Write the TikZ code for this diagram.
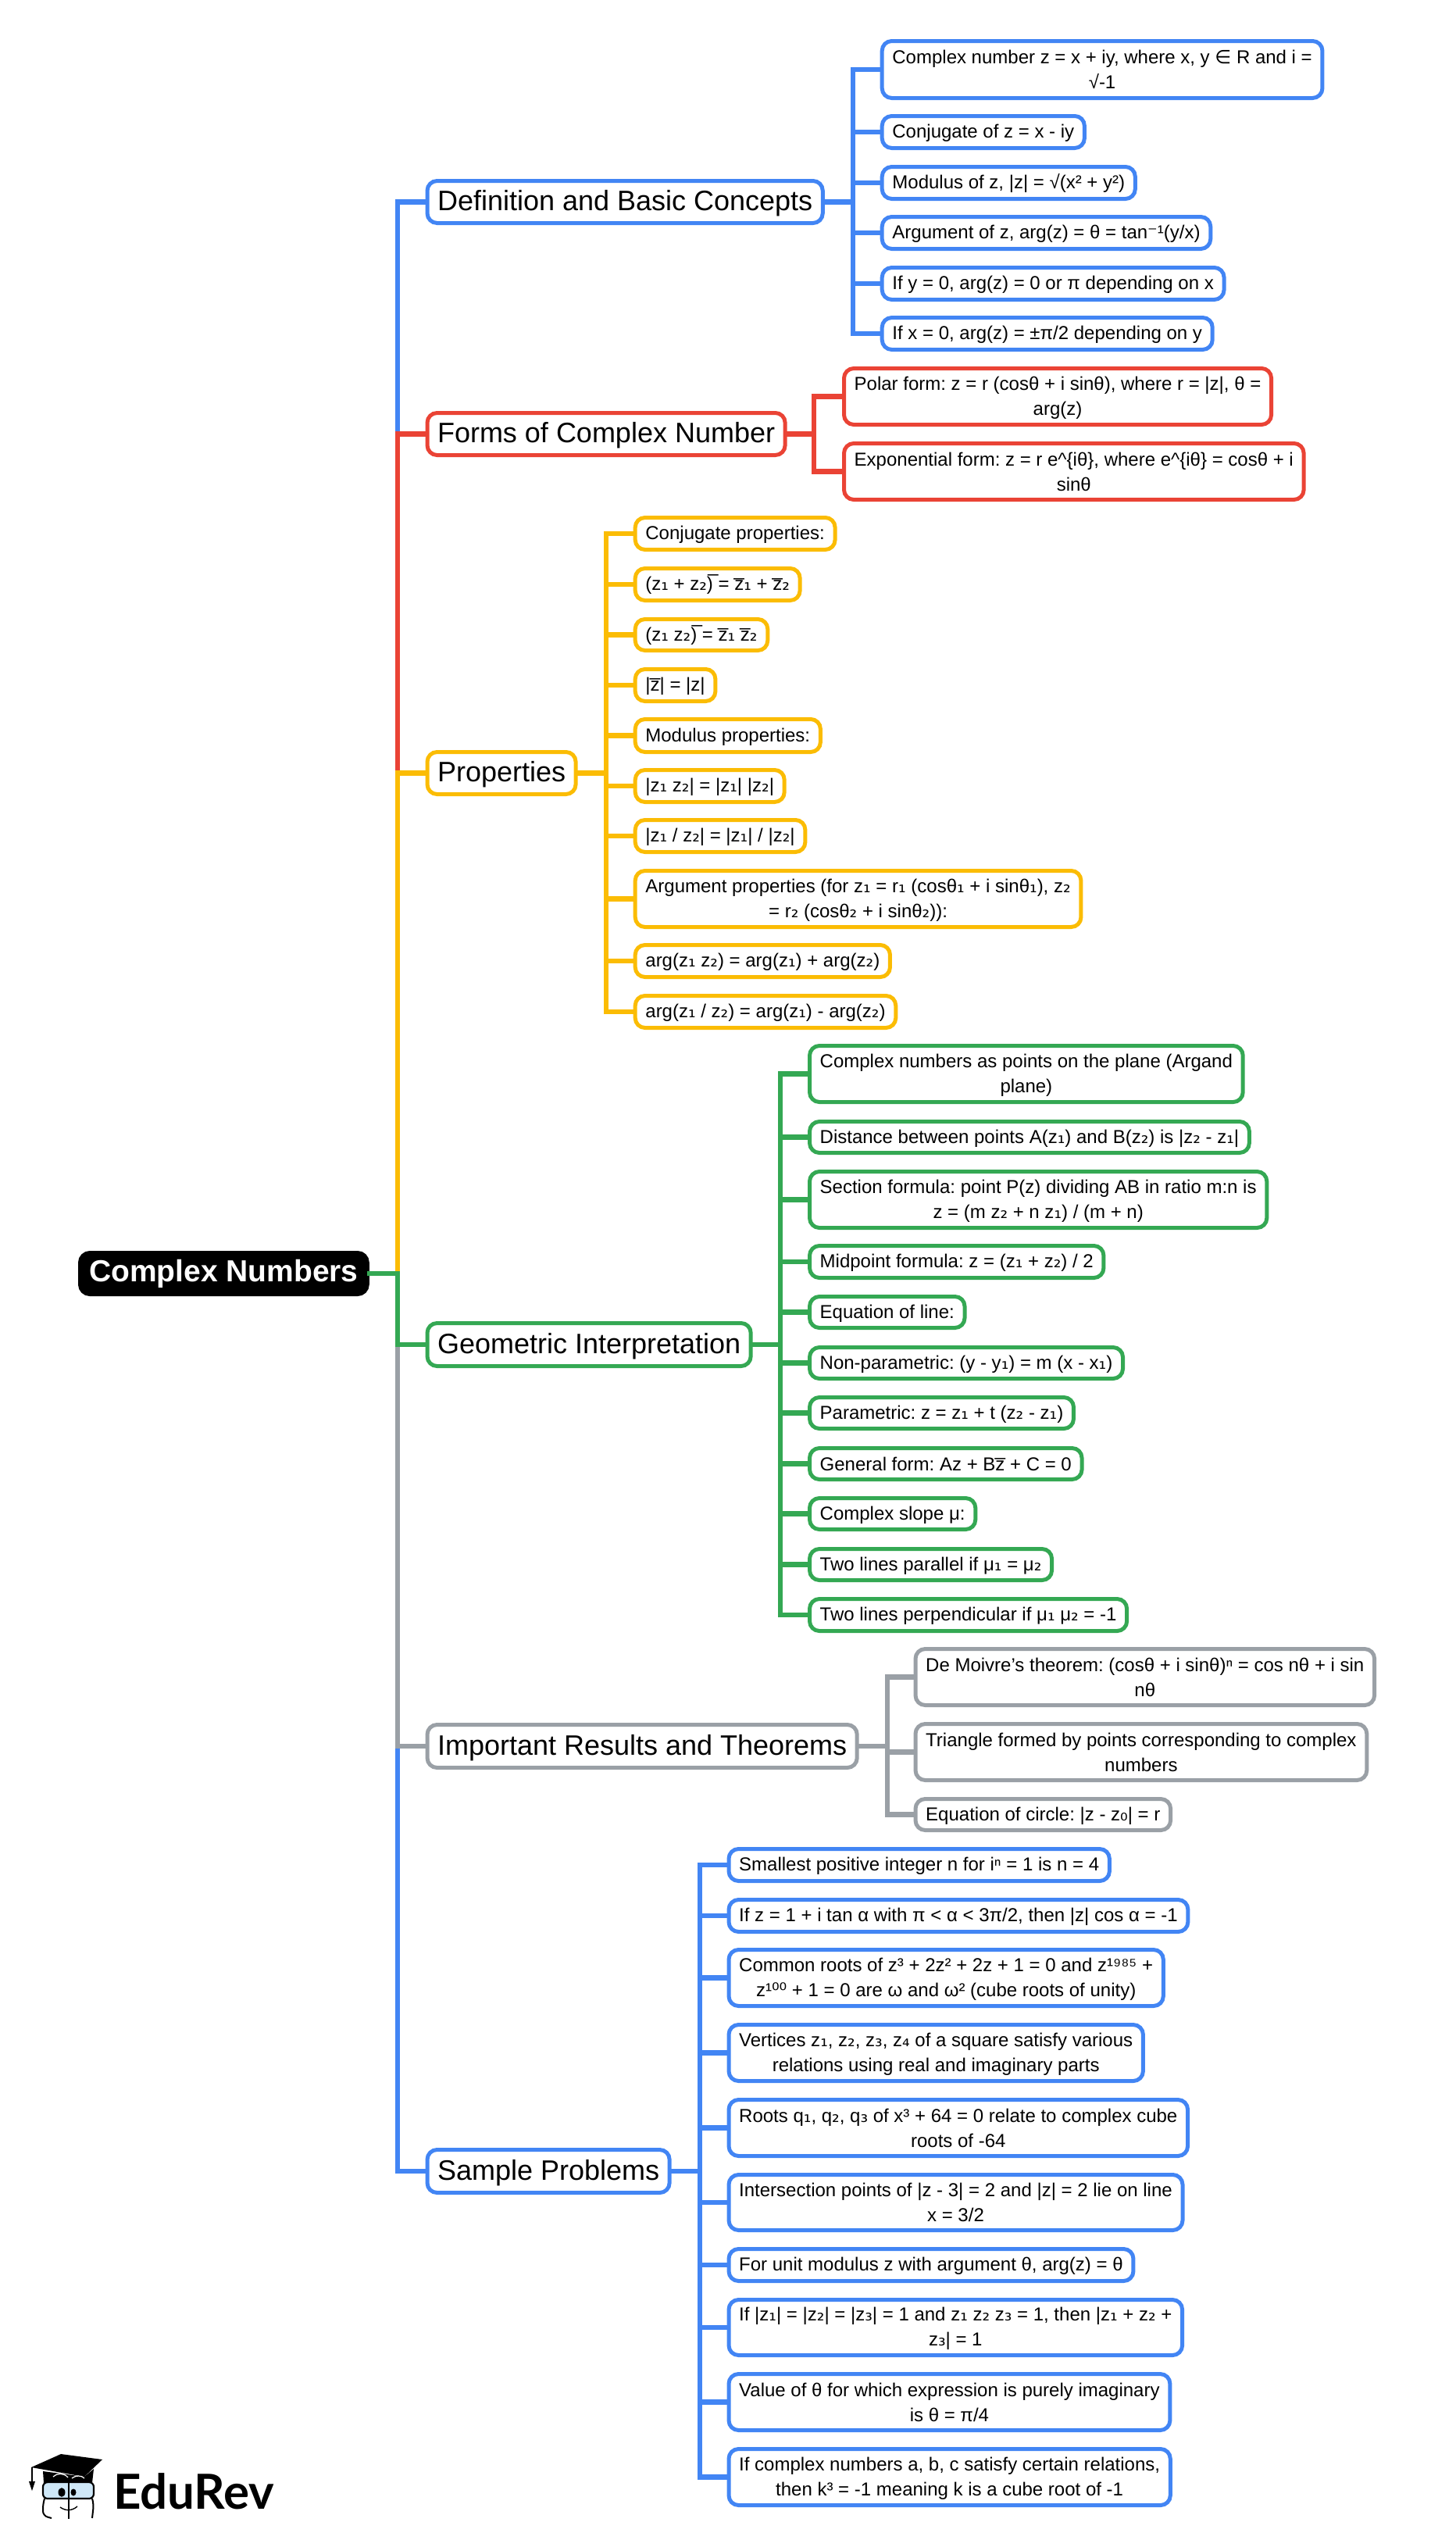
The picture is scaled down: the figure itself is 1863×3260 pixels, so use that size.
\documentclass[tikz,border=0pt]{standalone}
\usepackage{fontspec}
\usepackage{newunicodechar}
\setmainfont{Liberation Sans}
\newfontfamily\logofont{Lato}
\newfontfamily\dv{DejaVu Sans}
\newunicodechar{₀}{{\dv\symbol{"2080}}}
\newunicodechar{₁}{{\dv\symbol{"2081}}}
\newunicodechar{₂}{{\dv\symbol{"2082}}}
\newunicodechar{₃}{{\dv\symbol{"2083}}}
\newunicodechar{₄}{{\dv\symbol{"2084}}}
\definecolor{cblue}{HTML}{4285F4}
\definecolor{cred}{HTML}{EA4335}
\definecolor{cyel}{HTML}{FBBC04}
\definecolor{cgrn}{HTML}{34A853}
\definecolor{cgry}{HTML}{9AA0A6}
\definecolor{lensblue}{HTML}{CFE8F8}
\newcommand{\st}{\rule[-1.7pt]{0pt}{12pt}}
\newcommand{\mst}{\rule[-2.5pt]{0pt}{17.5pt}}
\newcommand{\bx}[6]{\node[#1,anchor=west,minimum height={(#5-#4-5)*0.5}] (#2) at ({#3+2.5},{(#4+#5)/2}) {#6};}
\newcommand{\cn}[4]{\draw[link,#1] (#2.east) -- (#2.east -| #3) -- (#3 |- #4.west) -- (#4.west);}
\tikzset{
 box/.style={rectangle,rounded corners=6.25pt,draw,line width=2.5pt,fill=white,inner xsep=6.6pt,inner ysep=0pt,outer sep=0pt,align=center,text=black},
 rootbox/.style={box,draw=black,fill=black,text=white,inner xsep=5.8pt,font=\fontsize{19.5}{26}\selectfont\bfseries},
 mainbox/.style={box,inner xsep=6.5pt,font=\fontsize{18}{24}\selectfont},
 mainb/.style={mainbox,draw=cblue},
 mainr/.style={mainbox,draw=cred},
 mainy/.style={mainbox,draw=cyel},
 maing/.style={mainbox,draw=cgrn},
 mainz/.style={mainbox,draw=cgry},
 subbox/.style={box,font=\fontsize{12}{16}\selectfont},
 subb/.style={subbox,draw=cblue},
 subr/.style={subbox,draw=cred},
 suby/.style={subbox,draw=cyel},
 subg/.style={subbox,draw=cgrn},
 subz/.style={subbox,draw=cgry},
 link/.style={line width=3.2pt,line join=miter},
}
\begin{document}
\frenchspacing
\begin{tikzpicture}[x=0.5pt,y=-0.5pt]
\useasboundingbox (0,0) rectangle (1863,3260);
\coordinate (sp0) at (509,0);
\coordinate (spA) at (1092,0);
\coordinate (spB) at (1042,0);
\coordinate (spC) at (776,0);
\coordinate (spD) at (999,0);
\coordinate (spE) at (1136,0);
\coordinate (spF) at (896,0);
% nodes
\bx{rootbox}{root}{100}{1601}{1659}{\rule[-2.5pt]{0pt}{17.4pt}Complex Numbers}
\bx{mainb}{a}{544.5}{229}{288}{\mst Definition and Basic Concepts}
\bx{subb}{a1}{1126.7}{50}{128}{\st Complex number z = x + iy, where x, y {\dv ∈} R and i =\\\st √-1}
\bx{subb}{a2}{1126.7}{146}{192}{\st Conjugate of z = x - iy}
\bx{subb}{a3}{1126.7}{211}{257}{\st Modulus of z, |z| = √(x² + y²)}
\bx{subb}{a4}{1126.7}{275}{321}{\st Argument of z, arg(z) = θ = tan{\dv ⁻}¹(y/x)}
\bx{subb}{a5}{1126.7}{340}{386}{\st If y = 0, arg(z) = 0 or π depending on x}
\bx{subb}{a6}{1126.7}{404}{450}{\st If x = 0, arg(z) = ±π/2 depending on y}
\bx{mainr}{b}{544.5}{526}{585}{\mst Forms of Complex Number}
\bx{subr}{b1}{1078}{469}{546}{\st Polar form: z = r (cosθ + i sinθ), where r = |z|, θ =\\\st arg(z)}
\bx{subr}{b2}{1078}{565}{642}{\st Exponential form: z = r e\^{}\{iθ\}, where e\^{}\{iθ\} = cosθ + i\\\st sinθ}
\bx{mainy}{c}{544.5}{960}{1019}{\mst Properties}
\bx{suby}{c1}{810.7}{660}{706}{\st Conjugate properties:}
\bx{suby}{c2}{810.7}{725}{771}{\st (z₁ + z₂)̅ = z̅₁ + z̅₂}
\bx{suby}{c3}{810.7}{790}{835}{\st (z₁ z₂)̅ = z̅₁ z̅₂}
\bx{suby}{c4}{810.7}{854}{900}{\st |z̅| = |z|}
\bx{suby}{c5}{810.7}{918}{965}{\st Modulus properties:}
\bx{suby}{c6}{810.7}{983}{1029}{\st |z₁ z₂| = |z₁| |z₂|}
\bx{suby}{c7}{810.7}{1047}{1093}{\st |z₁ / z₂| = |z₁| / |z₂|}
\bx{suby}{c8}{810.7}{1112}{1189}{\st Argument properties (for z₁ = r₁ (cosθ₁ + i sinθ₁), z₂\\\st = r₂ (cosθ₂ + i sinθ₂)):}
\bx{suby}{c9}{810.7}{1207}{1253}{\st arg(z₁ z₂) = arg(z₁) + arg(z₂)}
\bx{suby}{c10}{810.7}{1272}{1318}{\st arg(z₁ / z₂) = arg(z₁) - arg(z₂)}
\bx{maing}{d}{544.5}{1691}{1751}{\mst Geometric Interpretation}
\bx{subg}{d1}{1034}{1336}{1413}{\st Complex numbers as points on the plane (Argand\\\st plane)}
\bx{subg}{d2}{1034}{1433}{1478}{\st Distance between points A(z₁) and B(z₂) is |z₂ - z₁|}
\bx{subg}{d3}{1034}{1497}{1574}{\st Section formula: point P(z) dividing AB in ratio m:n is\\\st z = (m z₂ + n z₁) / (m + n)}
\bx{subg}{d4}{1034}{1592}{1638}{\st Midpoint formula: z = (z₁ + z₂) / 2}
\bx{subg}{d5}{1034}{1657}{1702}{\st Equation of line:}
\bx{subg}{d6}{1034}{1722}{1767}{\st Non-parametric: (y - y₁) = m (x - x₁)}
\bx{subg}{d7}{1034}{1786}{1831}{\st Parametric: z = z₁ + t (z₂ - z₁)}
\bx{subg}{d8}{1034}{1851}{1896}{\st General form: Az + Bz̅ + C = 0}
\bx{subg}{d9}{1034}{1915}{1960}{\st Complex slope μ:}
\bx{subg}{d10}{1034}{1980}{2025}{\st Two lines parallel if μ₁ = μ₂}
\bx{subg}{d11}{1034}{2044}{2090}{\st Two lines perpendicular if μ₁ μ₂ = -1}
\bx{mainz}{e}{544.5}{2205}{2265}{\mst Important Results and Theorems}
\bx{subz}{e1}{1169.5}{2108}{2185}{\st De Moivre's theorem: (cosθ + i sinθ)ⁿ = cos nθ + i sin\\\st nθ}
\bx{subz}{e2}{1169.5}{2204}{2281}{\st Triangle formed by points corresponding to complex\\\st numbers}
\bx{subz}{e3}{1169.5}{2300}{2345}{\st Equation of circle: |z - z₀| = r}
\bx{mainb}{f}{544.5}{2749}{2809}{\mst Sample Problems}
\bx{subb}{f1}{930.5}{2364}{2410}{\st Smallest positive integer n for iⁿ = 1 is n = 4}
\bx{subb}{f2}{930.5}{2429}{2475}{\st If z = 1 + i tan α with π < α < 3π/2, then |z| cos α = -1}
\bx{subb}{f3}{930.5}{2493}{2570}{\st Common roots of z³ + 2z² + 2z + 1 = 0 and z¹⁹⁸⁵ +\\\st z¹{\dv ⁰⁰} + 1 = 0 are ω and ω² (cube roots of unity)}
\bx{subb}{f4}{930.5}{2589}{2666}{\st Vertices z₁, z₂, z₃, z₄ of a square satisfy various\\\st relations using real and imaginary parts}
\bx{subb}{f5}{930.5}{2685}{2762}{\st Roots q₁, q₂, q₃ of x³ + 64 = 0 relate to complex cube\\\st roots of -64}
\bx{subb}{f6}{930.5}{2781}{2857}{\st Intersection points of |z - 3| = 2 and |z| = 2 lie on line\\\st x = 3/2}
\bx{subb}{f7}{930.5}{2876}{2922}{\st For unit modulus z with argument θ, arg(z) = θ}
\bx{subb}{f8}{930.5}{2941}{3017}{\st If |z₁| = |z₂| = |z₃| = 1 and z₁ z₂ z₃ = 1, then |z₁ + z₂ +\\\st z₃| = 1}
\bx{subb}{f9}{930.5}{3036}{3113}{\st Value of θ for which expression is purely imaginary\\\st is θ = π/4}
\bx{subb}{f10}{930.5}{3132}{3209}{\st If complex numbers a, b, c satisfy certain relations,\\\st then k³ = -1 meaning k is a cube root of -1}
% connectors
\cn{cblue}{root}{sp0}{f}
\cn{cgry}{root}{sp0}{e}
\cn{cblue}{root}{sp0}{a}
\cn{cred}{root}{sp0}{b}
\cn{cyel}{root}{sp0}{c}
\cn{cgrn}{root}{sp0}{d}
\foreach \i in {1,...,6} {\cn{cblue}{a}{spA}{a\i}}
\foreach \i in {1,2} {\cn{cred}{b}{spB}{b\i}}
\foreach \i in {1,...,10} {\cn{cyel}{c}{spC}{c\i}}
\foreach \i in {1,...,11} {\cn{cgrn}{d}{spD}{d\i}}
\foreach \i in {1,2,3} {\cn{cgry}{e}{spE}{e\i}}
\foreach \i in {1,...,10} {\cn{cblue}{f}{spF}{f\i}}
% logo
\fill (78,3141) -- (131,3148) -- (108,3170) -- (40,3158) -- cycle;
\fill (55,3163) -- (56,3178) -- (118,3178) -- (120,3160) -- (108,3170) -- cycle;
\draw[line width=0.6pt] (41,3158) -- (41,3177);
\fill (37,3176) -- (45,3176) -- (41,3188) -- cycle;
\draw[white,line width=0.6pt] (68,3170) .. controls (73,3165) and (82,3165) .. (87,3171);
\draw[white,line width=0.6pt] (92,3172) .. controls (97,3168) and (104,3168) .. (108,3172);
\draw[fill=lensblue,line width=1.1pt,rounded corners=3pt] (55,3177) rectangle (120,3198);
\draw[line width=1pt,rounded corners=3pt] (57,3198) -- (55,3205) -- (55,3220) -- (66,3223);
\draw[line width=1pt,rounded corners=3pt] (118,3198) -- (120,3205) -- (118,3223);
\draw[line width=1pt] (88,3171) -- (88,3224);
\fill (79,3190) ellipse [x radius=4.5,y radius=5.8];
\fill (94,3190) ellipse [x radius=3.5,y radius=4.5];
\draw[line width=0.7pt] (77,3209) .. controls (84,3214) and (92,3214) .. (99,3208);
\node[inner sep=0pt,outer sep=0pt,anchor=base west,font=\logofont\bfseries\fontsize{30.9}{32}\selectfont] (logo) at (145,3211) {EduRev};
\end{tikzpicture}
\end{document}
